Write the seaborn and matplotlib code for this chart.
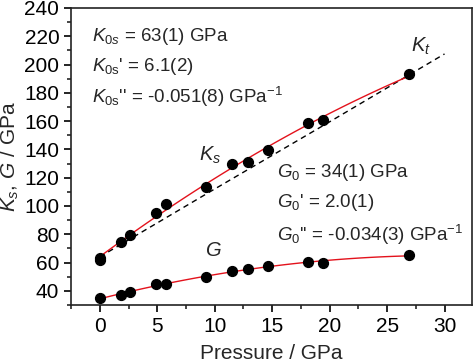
import numpy as np
import pandas as pd
import seaborn as sns
import matplotlib
matplotlib.use('Agg')
import matplotlib.pyplot as plt
from matplotlib.ticker import MultipleLocator

# adiabatic bulk modulus Ks vs pressure
p_ks = [0, 0, 1.8, 2.6, 4.85, 5.8, 9.25, 11.5, 12.9, 14.6, 18.15, 19.4, 26.9]
ks = [61.8, 63.5, 74.2, 79.6, 95.0, 101.7, 113.4, 130.0, 131.0, 139.5, 158.8, 161.0, 193.0]

# shear modulus G vs pressure
p_g = [0, 1.8, 2.6, 4.85, 5.8, 9.25, 11.5, 12.9, 14.6, 18.15, 19.4, 26.9]
g = [34.6, 37.0, 39.3, 44.7, 44.6, 49.9, 54.1, 55.3, 57.6, 60.5, 59.4, 65.2]

# isothermal Kt (dashed)
kt_p = [0, 10, 20, 30]
kt_k = [64.0, 112.0, 159.5, 207.5]

sns.set_style('ticks')
plt.rcParams['font.family'] = ['Liberation Sans', 'DejaVu Sans']
plt.rcParams['mathtext.fontset'] = 'custom'
plt.rcParams['mathtext.rm'] = 'Liberation Sans'
plt.rcParams['mathtext.it'] = 'Liberation Sans:italic'
plt.rcParams['mathtext.bf'] = 'Liberation Sans:bold'

fig = plt.figure(figsize=(4.74, 3.63), dpi=100)
ax = fig.add_axes([0.150, 0.160, 0.846, 0.818])

sns.lineplot(x=kt_p, y=kt_k, color='black', linestyle=(0, (4, 3)), lw=1, ax=ax)
sns.regplot(x=p_ks, y=ks, order=2, ci=None, ax=ax,
            scatter_kws=dict(color='black', s=50, zorder=3, alpha=1),
            line_kws=dict(color='#e3121c', lw=1.0, zorder=2))
sns.regplot(x=p_g, y=g, order=2, ci=None, ax=ax,
            scatter_kws=dict(color='black', s=50, zorder=3, alpha=1),
            line_kws=dict(color='#e3121c', lw=1.0, zorder=2))

ax.set_xlim(-2.5, 32.4)
ax.set_ylim(30, 240)
ax.xaxis.set_major_locator(MultipleLocator(5))
ax.xaxis.set_minor_locator(MultipleLocator(2.5))
ax.yaxis.set_major_locator(MultipleLocator(20))
ax.yaxis.set_minor_locator(MultipleLocator(10))
ax.tick_params(which='major', direction='out', length=5, width=1.2, labelsize=15, colors='black')
ax.tick_params(which='minor', direction='out', length=3, width=1.2)
ax.set_yticks(range(40, 241, 20))
for s in ax.spines.values():
    s.set_linewidth(1.2)
    s.set_color('#222222')

ax.set_xlabel('Pressure / GPa', fontsize=15, labelpad=6)
ax.set_ylabel(r'$K_s$, $G$ / GPa', fontsize=15, labelpad=2)

fs = 13.5
ax.text(-0.7, 219.5, r'$K_{0s}$ = 63(1) GPa', fontsize=fs, va='center')
ax.text(-0.7, 198.5, r"$K_{0\mathrm{s}}$' = 6.1(2)", fontsize=fs, va='center')
ax.text(-0.7, 177.0, r"$K_{0\mathrm{s}}$'' = -0.051(8) GPa$^{-1}$", fontsize=fs, va='center')
ax.text(27.1, 213, r'$K_t$', fontsize=fs + 1, va='center')
ax.text(8.6, 136, r'$K_s$', fontsize=fs + 1, va='center')
ax.text(9.9, 68.5, r'$G$', fontsize=fs + 1, va='center', ha='center')
ax.text(15.4, 124, r'$G_0$ = 34(1) GPa', fontsize=fs, va='center')
ax.text(15.4, 102.5, r"$G_0$' = 2.0(1)", fontsize=fs, va='center')
ax.text(15.4, 79.5, r"$G_0$'' = -0.034(3) GPa$^{-1}$", fontsize=fs, va='center')

fig.savefig('out.png', dpi=100)
